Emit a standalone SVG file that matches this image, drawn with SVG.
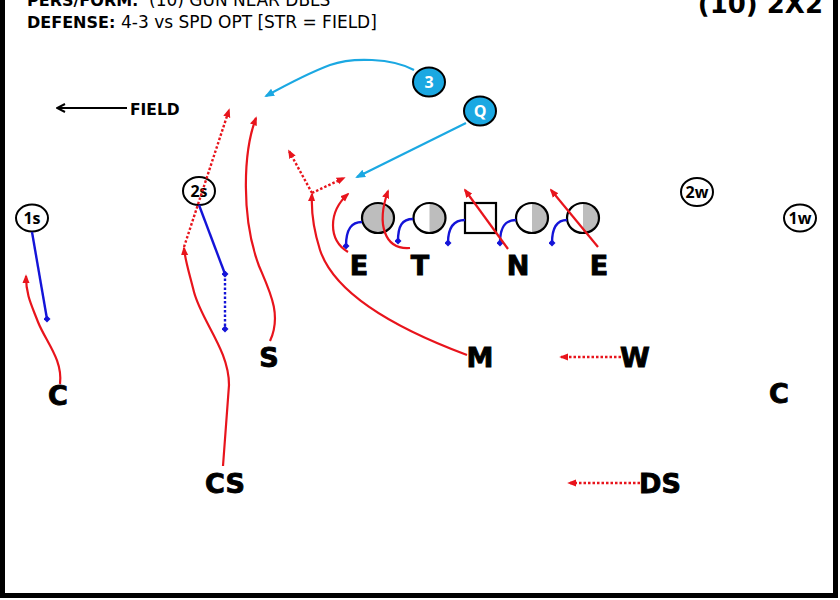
<svg xmlns="http://www.w3.org/2000/svg" width="840" height="600" viewBox="0 0 840 600">
<style>
.hdr{font-family:"DejaVu Sans",Verdana,sans-serif;font-size:17px;fill:#000}
.b{font-weight:bold;font-size:16px}
.lbl{font-family:"DejaVu Sans",Arial,sans-serif;font-weight:bold;font-size:27px;fill:#000;stroke:#000;stroke-width:0.9;text-anchor:middle}
.off{fill:#fff;stroke:#000;stroke-width:2}
.olt{fill:#fff;stroke:none}
.gray{fill:#bdbdbd;stroke:none}
.olo{fill:none;stroke:#000;stroke-width:2.2}
.sm{font-family:"Open Sans","DejaVu Sans",sans-serif;font-weight:bold;font-size:16px;fill:#000;text-anchor:middle}
.qb{fill:#1ba8e2;stroke:#000;stroke-width:2}
.qt{font-family:"Open Sans","DejaVu Sans",sans-serif;font-weight:bold;font-size:16px;fill:#fff;text-anchor:middle}
.red{fill:none;stroke:#e8141c;stroke-width:2.2}
.redd{fill:none;stroke:#e8141c;stroke-width:2.4;stroke-dasharray:2.5 2}
.blu{fill:none;stroke:#1414d8;stroke-width:2.4}
.blud{fill:none;stroke:#1414d8;stroke-width:2.4;stroke-dasharray:2.5 2}
.cy{fill:none;stroke:#1ba8e2;stroke-width:2.2}
.blk{fill:none;stroke:#000;stroke-width:2}
</style>
<defs>
<marker id="ar" viewBox="0 0 10 10" refX="8" refY="5" markerWidth="9" markerHeight="9" markerUnits="userSpaceOnUse" orient="auto"><path d="M0,1 L10,5 L0,9 z" fill="#e8141c"/></marker>
<marker id="ac" viewBox="0 0 10 10" refX="8" refY="5" markerWidth="10" markerHeight="10" markerUnits="userSpaceOnUse" orient="auto"><path d="M0,1 L10,5 L0,9 z" fill="#1ba8e2"/></marker>
<marker id="ak" viewBox="0 0 10 10" refX="9" refY="5" markerWidth="10" markerHeight="10" markerUnits="userSpaceOnUse" orient="auto"><path d="M1,1 L9,5 L1,9" fill="none" stroke="#000" stroke-width="2"/></marker>
<marker id="bd" viewBox="0 0 10 10" refX="5" refY="5" markerWidth="7" markerHeight="7" markerUnits="userSpaceOnUse"><path d="M5,0 L10,5 L5,10 L0,5 z" fill="#1414d8"/></marker>
</defs>
<rect x="0" y="0" width="840" height="600" fill="#fff"/>
<rect x="2.5" y="-20" width="833" height="615.5" fill="none" stroke="#000" stroke-width="5"/>

<g id="header">
<text class="hdr" y="6"><tspan x="27" class="b">PERS/FORM:</tspan><tspan x="149">(10) GUN NEAR DBLS</tspan></text>
<text class="hdr" y="28"><tspan x="27" class="b">DEFENSE:</tspan><tspan x="121">4-3 vs SPD OPT [STR = FIELD]</tspan></text>
<text x="823" y="13" text-anchor="end" font-family="DejaVu Sans, Verdana, sans-serif" font-weight="bold" font-size="26">(10) 2X2</text>
<text x="130" y="115" font-family="DejaVu Sans, Verdana, sans-serif" font-weight="bold" font-size="15.5">FIELD</text>
</g>

<g id="ol1"><ellipse class="gray" cx="378" cy="218" rx="16" ry="15"/><ellipse class="olo" cx="378" cy="218" rx="16" ry="15"/></g>
<g id="ol2"><ellipse class="olt" cx="429.5" cy="218" rx="16" ry="15"/><path class="gray" d="M429.5,203 A16,15 0 0 1 429.5,233 Z"/><ellipse class="olo" cx="429.5" cy="218" rx="16" ry="15"/></g>
<g id="center"><rect x="465" y="203" width="31" height="30" fill="#fff" stroke="#000" stroke-width="2.2"/></g>
<g id="ol4"><ellipse class="olt" cx="532" cy="218" rx="16" ry="15"/><path class="gray" d="M532,203 A16,15 0 0 1 532,233 Z"/><ellipse class="olo" cx="532" cy="218" rx="16" ry="15"/></g>
<g id="ol5"><ellipse class="olt" cx="583" cy="218" rx="16" ry="15"/><path class="gray" d="M583,203 A16,15 0 0 1 583,233 Z"/><ellipse class="olo" cx="583" cy="218" rx="16" ry="15"/></g>

<g id="r1s"><ellipse class="off" cx="32" cy="218" rx="16" ry="13.5"/><text class="sm" x="32" y="223.5">1s</text></g>
<g id="r2s"><ellipse class="off" cx="199" cy="191" rx="16" ry="14"/><text class="sm" x="199" y="196.5">2s</text></g>
<g id="r2w"><ellipse class="off" cx="697" cy="192" rx="16" ry="14"/><text class="sm" x="697" y="197.5">2w</text></g>
<g id="r1w"><ellipse class="off" cx="800" cy="218" rx="16" ry="13.5"/><text class="sm" x="800" y="223.5">1w</text></g>
<g id="r3"><ellipse class="qb" cx="429" cy="82" rx="16" ry="14.5"/><text class="qt" x="429" y="87.5">3</text></g>
<g id="qb"><ellipse class="qb" cx="480" cy="111" rx="16" ry="14.5"/><text class="qt" x="480" y="116.5">Q</text></g>

<g id="dE1"><text class="lbl" x="359" y="275">E</text></g>
<g id="dT"><text class="lbl" x="420" y="275">T</text></g>
<g id="dN"><text class="lbl" x="518" y="275">N</text></g>
<g id="dE2"><text class="lbl" x="599" y="275">E</text></g>
<g id="dM"><text class="lbl" x="480" y="367">M</text></g>
<g id="dW"><text class="lbl" x="635" y="367">W</text></g>
<g id="dS"><text class="lbl" x="269" y="367">S</text></g>
<g id="dC1"><text class="lbl" x="58" y="405">C</text></g>
<g id="dC2"><text class="lbl" x="779" y="403">C</text></g>
<g id="dCS"><text class="lbl" x="225" y="493">CS</text></g>
<g id="dDS"><text class="lbl" x="660" y="493">DS</text></g>

<g id="connectors">
<path class="blk" d="M127,108 L57,108" marker-end="url(#ak)"/>
<path class="cy" d="M414,70 C392,58 352,57 330,65 C306,74 286,85 266,96" marker-end="url(#ac)"/>
<path class="cy" d="M466,123 L357,177" marker-end="url(#ac)"/>

<path class="blu" d="M362,222 C352,222 346,228 346,246" marker-end="url(#bd)"/>
<path class="blu" d="M413,219 C402,219 398,226 398,241" marker-end="url(#bd)"/>
<path class="blu" d="M465,220 C454,220 448,227 448,243" marker-end="url(#bd)"/>
<path class="blu" d="M516,220 C505,220 500,227 500,243" marker-end="url(#bd)"/>
<path class="blu" d="M567,220 C557,220 552,227 552,243" marker-end="url(#bd)"/>
<path class="blu" d="M32,232 L47,319" marker-end="url(#bd)"/>
<path class="blu" d="M199,205 L225,274" marker-end="url(#bd)"/>
<path class="blud" d="M225,274 L225,329" marker-end="url(#bd)"/>

<path class="red" d="M348,252 C328,240 328,212 348,194" marker-end="url(#ar)"/>
<path class="red" d="M410,248 C385,250 376,225 388,191" marker-end="url(#ar)"/>
<path class="red" d="M508,249 L465,190" marker-end="url(#ar)"/>
<path class="red" d="M598,247 L551,190" marker-end="url(#ar)"/>
<path class="red" d="M467,355 C400,330 335,295 320,250 C313,228 311,212 312,194" marker-end="url(#ar)"/>
<path class="redd" d="M312,193 L289,151" marker-end="url(#ar)"/>
<path class="redd" d="M312,193 L344,178" marker-end="url(#ar)"/>
<path class="red" d="M270,341 C282,315 270,292 259,266 C241,218 243,152 256,118" marker-end="url(#ar)"/>
<path class="red" d="M223,466 L229,385 C229,350 202,322 194,292 C189,272 185,260 184,248" marker-end="url(#ar)"/>
<path class="redd" d="M184,247 L229,110" marker-end="url(#ar)"/>
<path class="red" d="M60,384 C63,360 46,342 38,322 C32,306 26,296 26,276" marker-end="url(#ar)"/>
<path class="redd" d="M621,357 L561,357" marker-end="url(#ar)"/>
<path class="redd" d="M640,483 L569,483" marker-end="url(#ar)"/>
</g>
</svg>
